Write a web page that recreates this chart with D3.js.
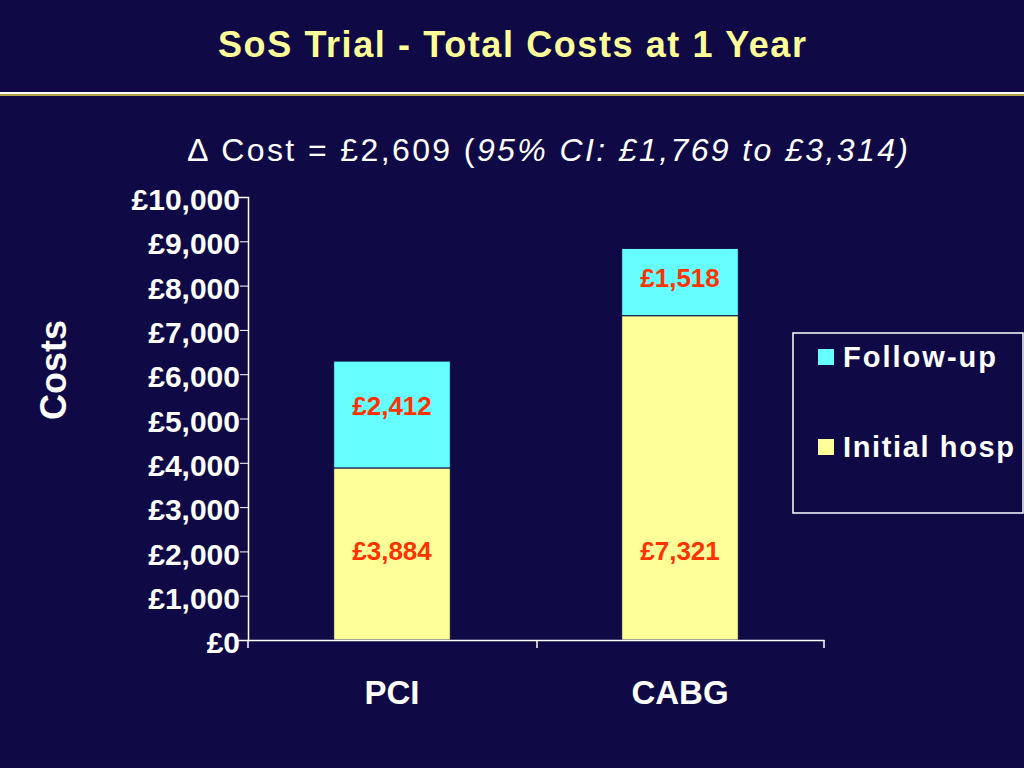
<!DOCTYPE html><html><head><meta charset="utf-8">
<script src="https://d3js.org/d3.v7.min.js"></script>
<style>body{margin:0;background:#0f0a45}svg{display:block}text{font-family:"Liberation Sans",Arial,sans-serif}</style></head><body>
<script>
const categories=["PCI","CABG"];
const initialHosp=[3884,7321];
const followUp=[2412,1518];
const yTicks=[0,1000,2000,3000,4000,5000,6000,7000,8000,9000,10000];
const seriesNames=["Follow-up","Initial hosp"];
const colors={"Initial hosp":"#ffff99","Follow-up":"#66ffff"};

const svg=d3.select("body").append("svg").attr("width",1024).attr("height",768).style("background","#0f0a45");
svg.append("text").attr("x",512).attr("y",57).attr("text-anchor","middle").attr("fill","#ffff99").attr("font-size",36).attr("font-weight","bold").attr("textLength",588).text("SoS Trial - Total Costs at 1 Year");
svg.append("rect").attr("x",0).attr("y",92).attr("width",1024).attr("height",2).attr("fill","#ffffff");
svg.append("rect").attr("x",0).attr("y",94).attr("width",1024).attr("height",2).attr("fill","#b0a040");
const sub=svg.append("text").attr("x",548).attr("y",161).attr("text-anchor","middle").attr("fill","#fff").attr("font-size",32).attr("textLength",720);
sub.append("tspan").text("\u2206 Cost = £2,609 (");
sub.append("tspan").attr("font-style","italic").text("95% CI: £1,769 to £3,314)");

const x=d3.scaleBand().domain(categories).range([248,824]).paddingInner(0.595).paddingOuter(0.2975);
const y=d3.scaleLinear().domain([0,10000]).range([640,197]);
const g=svg.append("g");
const fmt=v=>"£"+d3.format(",")(v);
categories.forEach((c,i)=>{
  const stack=[["Initial hosp",0,initialHosp[i]],["Follow-up",initialHosp[i],initialHosp[i]+followUp[i]]];
  stack.forEach(([s,a,b])=>{
    g.append("rect").attr("x",x(c)).attr("width",x.bandwidth()).attr("y",y(b)).attr("height",y(a)-y(b)).attr("fill",colors[s]).attr("stroke","#0f0a45").attr("stroke-width",1);
  });
  g.append("text").attr("x",x(c)+x.bandwidth()/2).attr("y",y(2000)+9).attr("text-anchor","middle").attr("fill","#ff3300").attr("font-size",26).attr("font-weight","bold").text(fmt(initialHosp[i]));
});
g.append("text").attr("x",x("PCI")+x.bandwidth()/2).attr("y",415).attr("text-anchor","middle").attr("fill","#ff3300").attr("font-size",26).attr("font-weight","bold").text(fmt(followUp[0]));
g.append("text").attr("x",x("CABG")+x.bandwidth()/2).attr("y",287).attr("text-anchor","middle").attr("fill","#ff3300").attr("font-size",26).attr("font-weight","bold").text(fmt(followUp[1]));

const ya=svg.append("g").attr("transform","translate(248,0)").call(d3.axisLeft(y).tickValues(yTicks).tickSize(12).tickFormat(fmt));
ya.select(".domain").attr("stroke","#fff").attr("stroke-width",1.5);
ya.selectAll(".tick line").attr("stroke","#fff").attr("x1",-8).attr("x2",0);
ya.selectAll(".tick text").attr("fill","#fff").attr("font-size",30).attr("font-weight","bold").attr("x",-8).attr("dy","0.42em");
const xa=svg.append("g").attr("transform","translate(0,640)").call(d3.axisBottom(x).tickSize(0).tickFormat(""));
xa.select(".domain").attr("stroke","#fff").attr("stroke-width",1.5);
[248,537,824].forEach(px=>svg.append("line").attr("x1",px).attr("x2",px).attr("y1",640).attr("y2",648).attr("stroke","#fff").attr("stroke-width",1.5));
categories.forEach(c=>svg.append("text").attr("x",x(c)+x.bandwidth()/2).attr("y",704).attr("text-anchor","middle").attr("fill","#fff").attr("font-size",33).attr("font-weight","bold").text(c));
svg.append("text").attr("transform","translate(66,370) rotate(-90)").attr("text-anchor","middle").attr("fill","#fff").attr("font-size",36).attr("font-weight","bold").text("Costs");

const lg=svg.append("g");
lg.append("rect").attr("x",793).attr("y",333).attr("width",230).attr("height",180).attr("fill","none").attr("stroke","#fff").attr("stroke-width",1.5);
seriesNames.forEach((s,i)=>{
  const yy=357+i*90;
  lg.append("rect").attr("x",818).attr("y",yy-8).attr("width",16).attr("height",16).attr("fill",colors[s]);
  lg.append("text").attr("x",843).attr("y",yy+10).attr("fill","#fff").attr("font-size",29).attr("font-weight","bold").attr("textLength",s==="Follow-up"?153:171).text(s);
});
</script></body></html>
